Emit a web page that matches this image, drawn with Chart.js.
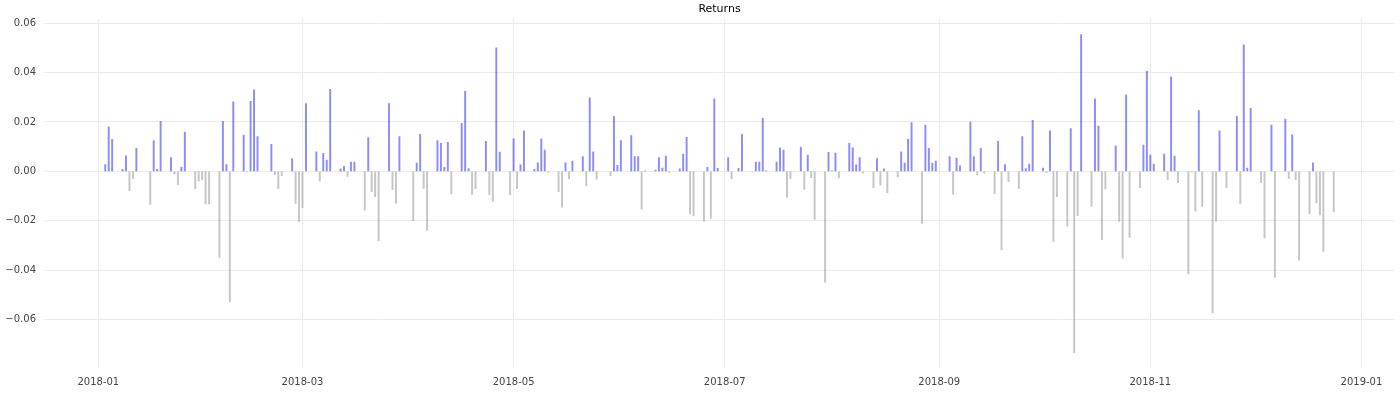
<!DOCTYPE html>
<html>
<head>
<meta charset="utf-8">
<title>Returns</title>
<script src="https://cdn.jsdelivr.net/npm/chart.js@4/dist/chart.umd.min.js"></script>
<style>
  html, body { margin: 0; padding: 0; background: #fff; }
  #wrap { width: 1400px; height: 393px; }
</style>
</head>
<body>
<div id="wrap"><canvas id="myChart" width="1400" height="393"></canvas></div>
<script>
// trading days (first return is Jan 3) and daily returns
var dates = [
  '2018-01-03','2018-01-04','2018-01-05','2018-01-08','2018-01-09','2018-01-10','2018-01-11','2018-01-12',
  '2018-01-16','2018-01-17','2018-01-18','2018-01-19','2018-01-22','2018-01-23','2018-01-24','2018-01-25',
  '2018-01-26','2018-01-29','2018-01-30','2018-01-31',
  '2018-02-01','2018-02-02','2018-02-05','2018-02-06','2018-02-07','2018-02-08','2018-02-09','2018-02-12',
  '2018-02-13','2018-02-14','2018-02-15','2018-02-16','2018-02-20','2018-02-21','2018-02-22','2018-02-23',
  '2018-02-26','2018-02-27','2018-02-28',
  '2018-03-01','2018-03-02','2018-03-05','2018-03-06','2018-03-07','2018-03-08','2018-03-09','2018-03-12',
  '2018-03-13','2018-03-14','2018-03-15','2018-03-16','2018-03-19','2018-03-20','2018-03-21','2018-03-22',
  '2018-03-23','2018-03-26','2018-03-27','2018-03-28','2018-03-29',
  '2018-04-02','2018-04-03','2018-04-04','2018-04-05','2018-04-06','2018-04-09','2018-04-10','2018-04-11',
  '2018-04-12','2018-04-13','2018-04-16','2018-04-17','2018-04-18','2018-04-19','2018-04-20','2018-04-23',
  '2018-04-24','2018-04-25','2018-04-26','2018-04-27','2018-04-30',
  '2018-05-01','2018-05-02','2018-05-03','2018-05-04','2018-05-07','2018-05-08','2018-05-09','2018-05-10',
  '2018-05-11','2018-05-14','2018-05-15','2018-05-16','2018-05-17','2018-05-18','2018-05-21','2018-05-22',
  '2018-05-23','2018-05-24','2018-05-25','2018-05-29','2018-05-30','2018-05-31',
  '2018-06-01','2018-06-04','2018-06-05','2018-06-06','2018-06-07','2018-06-08','2018-06-11','2018-06-12',
  '2018-06-13','2018-06-14','2018-06-15','2018-06-18','2018-06-19','2018-06-20','2018-06-21','2018-06-22',
  '2018-06-25','2018-06-26','2018-06-27','2018-06-28','2018-06-29',
  '2018-07-02','2018-07-03','2018-07-05','2018-07-06','2018-07-09','2018-07-10','2018-07-11','2018-07-12',
  '2018-07-13','2018-07-16','2018-07-17','2018-07-18','2018-07-19','2018-07-20','2018-07-23','2018-07-24',
  '2018-07-25','2018-07-26','2018-07-27','2018-07-30','2018-07-31',
  '2018-08-01','2018-08-02','2018-08-03','2018-08-06','2018-08-07','2018-08-08','2018-08-09','2018-08-10',
  '2018-08-13','2018-08-14','2018-08-15','2018-08-16','2018-08-17','2018-08-20','2018-08-21','2018-08-22',
  '2018-08-23','2018-08-24','2018-08-27','2018-08-28','2018-08-29','2018-08-30','2018-08-31',
  '2018-09-04','2018-09-05','2018-09-06','2018-09-07','2018-09-10','2018-09-11','2018-09-12','2018-09-13',
  '2018-09-14','2018-09-17','2018-09-18','2018-09-19','2018-09-20','2018-09-21','2018-09-24','2018-09-25',
  '2018-09-26','2018-09-27','2018-09-28',
  '2018-10-01','2018-10-02','2018-10-03','2018-10-04','2018-10-05','2018-10-08','2018-10-09','2018-10-10',
  '2018-10-11','2018-10-12','2018-10-15','2018-10-16','2018-10-17','2018-10-18','2018-10-19','2018-10-22',
  '2018-10-23','2018-10-24','2018-10-25','2018-10-26','2018-10-29','2018-10-30','2018-10-31',
  '2018-11-01','2018-11-02','2018-11-05','2018-11-06','2018-11-07','2018-11-08','2018-11-09','2018-11-12',
  '2018-11-13','2018-11-14','2018-11-15','2018-11-16','2018-11-19','2018-11-20','2018-11-21','2018-11-23',
  '2018-11-26','2018-11-27','2018-11-28','2018-11-29','2018-11-30',
  '2018-12-03','2018-12-04','2018-12-06','2018-12-07','2018-12-10','2018-12-11','2018-12-12','2018-12-13',
  '2018-12-14','2018-12-17','2018-12-18','2018-12-19','2018-12-20','2018-12-21','2018-12-24'
];

var returns = [
  0.0027, 0.018, 0.013, 0.0008, 0.0063, -0.0078, -0.003, 0.0093,
  -0.0134, 0.0125, 0.0008, 0.0203, 0.0056, -0.001, -0.0054, 0.0017,
  0.0159, -0.007, -0.004, -0.0034,
  -0.0132, -0.0132, -0.0348, 0.0203, 0.0027, -0.0528, 0.0281, 0.0147,
  -0.0002, 0.0284, 0.033, 0.0141, 0.0109, -0.0013, -0.007, -0.0017,
  0.0052, -0.013, -0.0203,
  -0.0147, 0.0274, 0.0079, -0.004, 0.0073, 0.0046, 0.0332, 0.001,
  0.002, -0.002, 0.0038, 0.0038, -0.0157, 0.0137, -0.0082, -0.0102,
  -0.0281, 0.0274, -0.0073, -0.013, 0.0141,
  -0.02, 0.0034, 0.015, -0.0069, -0.0239, 0.0125, 0.0114, 0.0016,
  0.0118, -0.0091, 0.0194, 0.0324, 0.0011, -0.0094, -0.007, 0.0122,
  -0.0094, -0.0122, 0.05, 0.0078, -0.0094,
  0.0132, -0.007, 0.0026, 0.0164, 0.0008, 0.0035, 0.0132, 0.0086,
  -0.0004, -0.0082, -0.0145, 0.0035, -0.003, 0.0042, 0.006, -0.0059,
  0.0298, 0.0079, -0.0032, -0.0017, 0.0223, 0.0024,
  0.0125, 0.0145, 0.006, 0.006, -0.0153, 0.0002, 0.0005, 0.0056,
  0.0013, 0.0062, -0.0004, 0.001, 0.007, 0.0138, -0.0173, -0.0179,
  -0.0203, 0.0016, -0.019, 0.0294, 0.0012,
  0.0056, -0.003, 0.0012, 0.015, -0.0002, 0.0038, 0.0038, 0.0215,
  0.0002, 0.0038, 0.0095, 0.0086, -0.0105, -0.003, 0.0098, -0.0073,
  0.0066, -0.0026, -0.0195, -0.0449, 0.0077,
  0.0002, 0.0074, -0.0027, 0.0114, 0.0095, 0.0026, 0.0056, -0.0007,
  -0.0066, 0.0052, -0.0056, 0.001, -0.0086, -0.0022, 0.0079, 0.0034,
  0.013, 0.0198, -0.0211, 0.0187, 0.0093, 0.0034, 0.0042,
  0.006, -0.0093, 0.0054, 0.0022, 0.02, 0.006, -0.0013, 0.0093,
  -0.0008, -0.009, 0.0122, -0.0317, 0.0027, -0.0042, -0.007, 0.0141,
  0.0011, 0.003, 0.0207,
  0.0013, -0.0005, 0.0164, -0.0284, -0.0102, -0.0222, 0.0173, -0.0734,
  -0.0179, 0.0554, -0.0141, 0.0294, 0.0183, -0.0277, -0.0071, 0.0102,
  -0.0203, -0.0351, 0.031, -0.0267, -0.0066, 0.0106, 0.0405,
  0.0066, 0.003, 0.007, -0.0034, 0.0383, 0.0062, -0.0046, -0.0415,
  -0.0003, -0.0161, 0.0246, -0.0142, -0.0573, -0.0203, 0.0164, -0.0066,
  0.0223, -0.013, 0.0512, 0.0013, 0.0255,
  -0.0046, -0.027, 0.0187, -0.0429, 0.0212, -0.003, 0.0148, -0.0034,
  -0.0359, -0.0171, 0.0035, -0.0128, -0.0176, -0.0324, -0.0163
];

var xTickDates = ['2018-01-01','2018-03-01','2018-05-01','2018-07-01','2018-09-01','2018-11-01','2019-01-01'];
var xTickLabels = ['2018-01','2018-03','2018-05','2018-07','2018-09','2018-11','2019-01'];
var yTicks = [-0.06, -0.04, -0.02, 0.00, 0.02, 0.04, 0.06];

// days since 2018-01-01, used as the linear x value
function dayOf(s) {
  var p = s.split('-');
  return (Date.UTC(+p[0], +p[1] - 1, +p[2]) - Date.UTC(2018, 0, 1)) / 86400000;
}

var points = dates.map(function (d, i) { return { x: dayOf(d), y: returns[i] }; });
var colors = returns.map(function (v) { return v >= 0 ? 'rgba(0,0,255,0.45)' : 'rgba(128,128,128,0.45)'; });
var xTicks = xTickDates.map(dayOf);

var tickFont = { family: 'DejaVu Sans', size: 10 };
var gridColor = '#ebebeb';

var ctx = document.getElementById('myChart').getContext('2d');
var myChart = new Chart(ctx, {
    type: 'bar',
    data: {
        datasets: [{
            label: 'Returns',
            data: points,
            backgroundColor: colors,
            borderWidth: 0,
            barThickness: 1.3
        }]
    },
    options: {
        responsive: false,
        animation: false,
        devicePixelRatio: 1,
        layout: { padding: { left: 0, right: 5, top: 0, bottom: 0 } },
        plugins: {
            legend: { display: false },
            title: {
                display: true,
                fullSize: false,   // centre over the plot area, like the original
                text: 'Returns',
                color: '#000',
                font: { family: 'DejaVu Sans', size: 11, weight: 'normal', lineHeight: 1.2 },
                padding: { top: 3, bottom: 3 }
            },
            tooltip: { enabled: true }
        },
        scales: {
            x: {
                type: 'linear',
                min: -15.7,
                max: 374.7,
                offset: false,
                border: { display: false },
                grid: { color: gridColor, drawTicks: false, offset: false },
                ticks: {
                    autoSkip: false,
                    maxRotation: 0,
                    padding: 8,
                    color: '#444',
                    font: tickFont,
                    callback: function (v, i) { return xTickLabels[i]; }
                },
                afterBuildTicks: function (s) { s.ticks = xTicks.map(function (v) { return { value: v }; }); },
                afterFit: function (s) { s.height = 25; }
            },
            y: {
                min: -0.0796,
                max: 0.0616,
                border: { display: false },
                grid: { color: gridColor, drawTicks: false },
                ticks: {
                    padding: 8,
                    color: '#444',
                    font: tickFont,
                    callback: function (v) { return v.toFixed(2).replace('-', '\u2212'); }
                },
                afterBuildTicks: function (s) { s.ticks = yTicks.map(function (v) { return { value: v }; }); },
                afterFit: function (s) { s.width = 44; }
            }
        }
    }
});
</script>
</body>
</html>
